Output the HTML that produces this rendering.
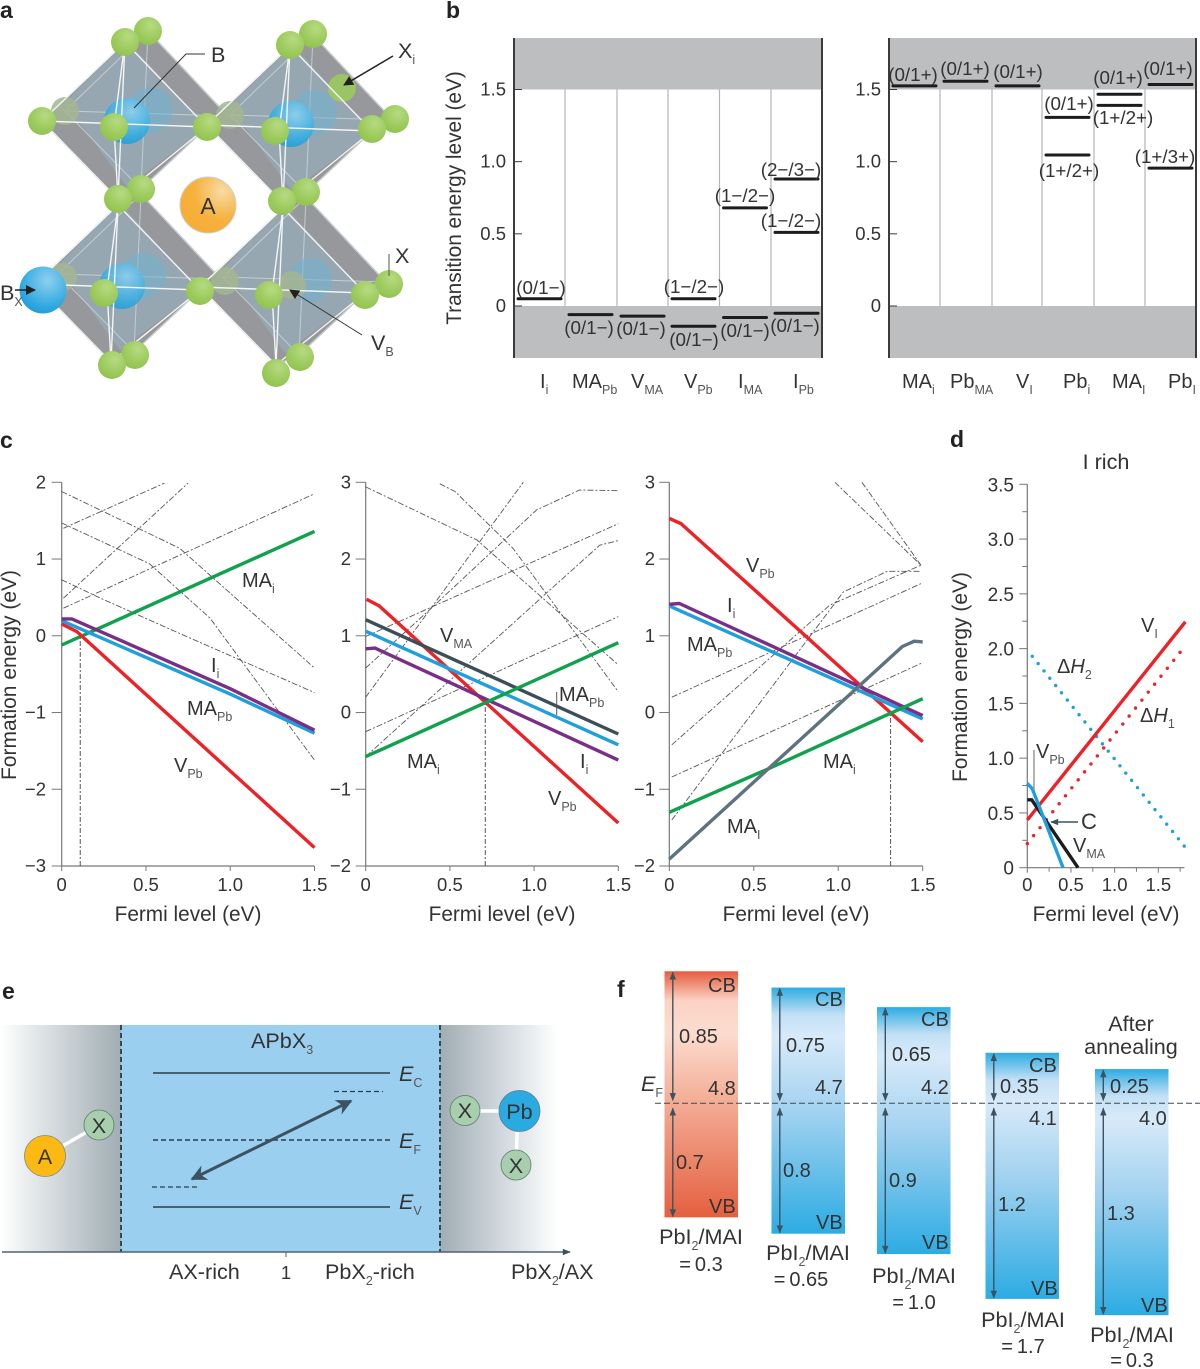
<!DOCTYPE html>
<html lang="en">
<head>
<meta charset="utf-8">
<title>Perovskite defect chemistry figure</title>
<style>
html,body{margin:0;padding:0;background:#fff;width:1200px;height:1369px;overflow:hidden}
svg{display:block}
text{font-family:"Liberation Sans",sans-serif;fill:#333;font-size:20px}
.t18{font-size:18.5px}
.t19{font-size:19px}
.s{font-size:12.5px;fill:#555}
.p{font-weight:bold;font-size:23px;fill:#222}
.m{text-anchor:middle}
.sl{font-size:18.8px}
.a{font-size:20.8px}
.w{font-size:21.6px}
</style>
</head>
<body>
<svg id="figure" width="1200" height="1369" viewBox="0 0 1200 1369" xmlns="http://www.w3.org/2000/svg">
<defs>
<radialGradient id="gr" cx="0.6" cy="0.3" r="0.8"><stop offset="0" stop-color="#b6da82"/><stop offset="0.6" stop-color="#9ccb5c"/><stop offset="1" stop-color="#8ec04c"/></radialGradient>
<radialGradient id="bl" cx="0.6" cy="0.3" r="0.8"><stop offset="0" stop-color="#8fd0ee"/><stop offset="0.7" stop-color="#2fa9e0"/><stop offset="1" stop-color="#1b98d6"/></radialGradient>
<radialGradient id="or" cx="0.75" cy="0.25" r="0.9"><stop offset="0" stop-color="#f7dca6"/><stop offset="0.55" stop-color="#f6b23e"/><stop offset="1" stop-color="#f5ac33"/></radialGradient>
<linearGradient id="gl" x1="0" x2="1" y1="0" y2="0"><stop offset="0" stop-color="#ffffff"/><stop offset="1" stop-color="#a0adb3"/></linearGradient>
<linearGradient id="gri" x1="0" x2="1" y1="0" y2="0"><stop offset="0" stop-color="#a0adb3"/><stop offset="0.5" stop-color="#cfd6dc"/><stop offset="1" stop-color="#ffffff"/></linearGradient>
<linearGradient id="barRed" x1="0" x2="0" y1="0" y2="1"><stop offset="0" stop-color="#e55c3e"/><stop offset="0.12" stop-color="#fbd3c4"/><stop offset="0.25" stop-color="#fcdccf"/><stop offset="0.5" stop-color="#f4b29b"/><stop offset="1" stop-color="#e4603f"/></linearGradient>
<linearGradient id="barBlue" x1="0" x2="0" y1="0" y2="1"><stop offset="0" stop-color="#2cace3"/><stop offset="0.11" stop-color="#c3e0f5"/><stop offset="0.2" stop-color="#d8eaf9"/><stop offset="0.5" stop-color="#a3d2f0"/><stop offset="1" stop-color="#2cace3"/></linearGradient>
<marker id="ah" viewBox="0 0 10 10" refX="9" refY="5" markerWidth="9" markerHeight="8" orient="auto-start-reverse" markerUnits="userSpaceOnUse"><path d="M0 1 L10 5 L0 9 Z" fill="#3d5260"/></marker>
<marker id="ahBig" viewBox="0 0 10 10" refX="9" refY="5" markerWidth="20" markerHeight="16" orient="auto-start-reverse" markerUnits="userSpaceOnUse"><path d="M0 0 L10 5 L0 10 L3 5 Z" fill="#3d5260"/></marker>
<marker id="ahK" viewBox="0 0 10 10" refX="9" refY="5" markerWidth="12" markerHeight="10" orient="auto" markerUnits="userSpaceOnUse"><path d="M0 0 L10 5 L0 10 Z" fill="#222"/></marker>
<g id="octa">
<polygon points="125,42 148,31 224,112 207,127 141,189 118,199 42,121" fill="#96989b" stroke="#c8cbce" stroke-width="1.5"/>
<polygon points="125,43 57,110 80,123 127,187 207,127 197,117 133,47" fill="#97a7b1"/>
<g stroke="#c3ccd2" stroke-width="1" fill="none">
<line x1="148" y1="31" x2="141" y2="189"/><line x1="65" y1="111" x2="148" y2="31"/><line x1="65" y1="111" x2="141" y2="189"/><line x1="65" y1="111" x2="228" y2="116"/><line x1="228" y1="116" x2="148" y2="31"/>
</g>
</g>
<g id="octaLines" stroke="#f3f5f6" stroke-width="1.4" fill="none">
<line x1="125" y1="42" x2="114" y2="127"/><line x1="125" y1="42" x2="207" y2="127"/><line x1="125" y1="42" x2="42" y2="121"/><line x1="42" y1="121" x2="207" y2="127"/><line x1="118" y1="199" x2="114" y2="127"/><line x1="118" y1="199" x2="125" y2="42"/><line x1="118" y1="199" x2="207" y2="127"/><line x1="42" y1="121" x2="118" y2="199" stroke-width="1"/>
</g>
</defs>

<!-- PANEL A -->
<g id="panel-a">
<text x="0" y="18" class="p">a</text>
<use href="#octa"/>
<use href="#octa" transform="translate(165,4)"/>
<use href="#octa" transform="translate(-7,163)"/>
<use href="#octa" transform="translate(158,166)"/>
<g>
<circle cx="150" cy="110" r="23" fill="#6fb3d2" opacity="0.55"/><circle cx="127" cy="121" r="23" fill="url(#bl)" opacity="0.9"/>
<circle cx="314" cy="113" r="23" fill="#6fb3d2" opacity="0.55"/><circle cx="291" cy="124" r="23" fill="url(#bl)" opacity="0.9"/>
<circle cx="143" cy="276" r="23" fill="#6fb3d2" opacity="0.55"/><circle cx="122" cy="286" r="23" fill="url(#bl)" opacity="0.85"/>
<circle cx="310" cy="280" r="22" fill="#6fb3d2" opacity="0.55"/>
</g>
<g fill="#a3b592" opacity="0.85">
<circle cx="65" cy="111" r="14"/><circle cx="230" cy="115" r="14"/><circle cx="63" cy="277" r="14"/><circle cx="225" cy="281" r="14"/>
<circle cx="292" cy="285" r="14"/><circle cx="342" cy="88" r="14" fill="#9ccb5c"/>
</g>
<use href="#octaLines"/>
<use href="#octaLines" transform="translate(165,4)"/>
<use href="#octaLines" transform="translate(-7,163)"/>
<use href="#octaLines" transform="translate(158,166)"/>
<g fill="url(#gr)">
<circle cx="148" cy="31" r="14"/><circle cx="125" cy="42" r="14"/><circle cx="42" cy="121" r="14"/><circle cx="114" cy="127" r="14"/><circle cx="207" cy="127" r="14"/>
<circle cx="141" cy="189" r="14"/><circle cx="118" cy="199" r="14"/>
<circle cx="313" cy="34" r="14"/><circle cx="290" cy="45" r="14"/><circle cx="275" cy="131" r="14"/><circle cx="395" cy="119" r="14"/><circle cx="372" cy="129" r="14"/>
<circle cx="306" cy="192" r="14"/><circle cx="282" cy="201" r="14"/>
<circle cx="104" cy="293" r="14"/><circle cx="200" cy="291" r="14"/>
<circle cx="135" cy="355" r="14"/><circle cx="112" cy="365" r="14"/>
<circle cx="269" cy="295" r="14"/><circle cx="389" cy="284" r="14"/><circle cx="365" cy="295" r="14"/>
<circle cx="300" cy="357" r="14"/><circle cx="276" cy="373" r="14"/>
</g>
<circle cx="43" cy="290" r="23.5" fill="url(#bl)"/>
<circle cx="208" cy="205" r="28" fill="url(#or)" stroke="#cfcfcf" stroke-width="1"/>
<text x="208" y="214" class="m" style="font-size:23px">A</text>
<polyline points="134,108 186,54 205,54" fill="none" stroke="#333" stroke-width="1"/>
<text x="211" y="62" class="w">B</text>
<text x="398" y="58" class="w">X<tspan class="s" dy="6">i</tspan></text>
<line x1="393" y1="56" x2="344" y2="85" stroke="#222" stroke-width="1.5" marker-end="url(#ahK)"/>
<text x="395" y="263" class="w">X</text>
<line x1="389" y1="254" x2="389" y2="276" stroke="#555" stroke-width="1"/>
<text x="0" y="300" class="w">B<tspan class="s" dy="6">X</tspan></text>
<line x1="15" y1="290" x2="35" y2="290" stroke="#222" stroke-width="1.5" marker-end="url(#ahK)"/>
<text x="371" y="350" class="w">V<tspan class="s" dy="6">B</tspan></text>
<line x1="362" y1="335" x2="290" y2="290" stroke="#333" stroke-width="1" marker-end="url(#ahK)"/>
</g>

<!-- PANEL B -->
<g id="panel-b">
<text x="446" y="18" class="p">b</text>
<text transform="translate(461,198) rotate(-90)" class="m a">Transition energy level (eV)</text>
<g id="b-marks"></g>
<g>
<text class="m sl" x="541" y="294">(0/1−)</text>
<text class="m sl" x="589" y="334">(0/1−)</text>
<text class="m sl" x="641" y="335">(0/1−)</text>
<text class="m sl" x="694" y="293">(1−/2−)</text>
<text class="m sl" x="694" y="346">(0/1−)</text>
<text class="m sl" x="745" y="202">(1−/2−)</text>
<text class="m sl" x="745" y="337">(0/1−)</text>
<text class="m sl" x="791" y="176">(2−/3−)</text>
<text class="m sl" x="791" y="227">(1−/2−)</text>
<text class="m sl" x="795" y="332">(0/1−)</text>
<text class="m sl" x="913" y="81">(0/1+)</text>
<text class="m sl" x="965" y="75">(0/1+)</text>
<text class="m sl" x="1018" y="78">(0/1+)</text>
<text class="m sl" x="1069" y="110">(0/1+)</text>
<text class="m sl" x="1069" y="177">(1+/2+)</text>
<text class="m sl" x="1118" y="84">(0/1+)</text>
<text class="m sl" x="1123" y="124">(1+/2+)</text>
<text class="m sl" x="1168" y="75">(0/1+)</text>
<text class="m sl" x="1165" y="163">(1+/3+)</text>
</g>
<g>
<text x="540" y="388">I<tspan class="s" dy="6">i</tspan></text>
<text x="572" y="388">MA<tspan class="s" dy="6">Pb</tspan></text>
<text x="631" y="388">V<tspan class="s" dy="6">MA</tspan></text>
<text x="684" y="388">V<tspan class="s" dy="6">Pb</tspan></text>
<text x="738" y="388">I<tspan class="s" dy="6">MA</tspan></text>
<text x="793" y="388">I<tspan class="s" dy="6">Pb</tspan></text>
<text x="902" y="388">MA<tspan class="s" dy="6">i</tspan></text>
<text x="950" y="388">Pb<tspan class="s" dy="6">MA</tspan></text>
<text x="1016" y="388">V<tspan class="s" dy="6">I</tspan></text>
<text x="1063" y="388">Pb<tspan class="s" dy="6">i</tspan></text>
<text x="1112" y="388">MA<tspan class="s" dy="6">I</tspan></text>
<text x="1168" y="388">Pb<tspan class="s" dy="6">I</tspan></text>
</g>
</g>

<!-- PANEL C & D -->
<g id="panel-c">
<text x="0" y="448" class="p">c</text>
<text transform="translate(16,675) rotate(-90)" class="m" style="font-size:21px">Formation energy (eV)</text>
<g id="c-marks"></g>
<text x="188" y="921" class="m a">Fermi level (eV)</text>
<text x="502" y="921" class="m a">Fermi level (eV)</text>
<text x="796" y="921" class="m a">Fermi level (eV)</text>
<text x="242" y="587">MA<tspan class="s" dy="6">i</tspan></text>
<text x="211" y="672">I<tspan class="s" dy="6">i</tspan></text>
<text x="187" y="715">MA<tspan class="s" dy="6">Pb</tspan></text>
<text x="174" y="772">V<tspan class="s" dy="6">Pb</tspan></text>
<text x="440" y="642">V<tspan class="s" dy="6">MA</tspan></text>
<text x="559" y="701">MA<tspan class="s" dy="6">Pb</tspan></text>
<line x1="556.7" y1="692" x2="556.7" y2="715" stroke="#555" stroke-width="1"/>
<text x="407" y="768">MA<tspan class="s" dy="6">i</tspan></text>
<text x="580" y="768">I<tspan class="s" dy="6">i</tspan></text>
<text x="548" y="805">V<tspan class="s" dy="6">Pb</tspan></text>
<text x="746" y="572">V<tspan class="s" dy="6">Pb</tspan></text>
<text x="727" y="612">I<tspan class="s" dy="6">i</tspan></text>
<text x="687" y="651">MA<tspan class="s" dy="6">Pb</tspan></text>
<text x="823" y="768">MA<tspan class="s" dy="6">i</tspan></text>
<text x="727" y="833">MA<tspan class="s" dy="6">I</tspan></text>
</g>
<g id="panel-d">
<text x="950" y="447" class="p">d</text>
<text x="1106" y="469" class="m w">I rich</text>
<text transform="translate(967,677) rotate(-90)" class="m" style="font-size:21px">Formation energy (eV)</text>
<text x="1106" y="921" class="m a">Fermi level (eV)</text>
<g id="d-marks"></g>
<text x="1141" y="632">V<tspan class="s" dy="6">I</tspan></text>
<text x="1057" y="673">Δ<tspan font-style="italic">H</tspan><tspan class="s" dy="6">2</tspan></text>
<text x="1140" y="722">Δ<tspan font-style="italic">H</tspan><tspan class="s" dy="6">1</tspan></text>
<text x="1036" y="758">V<tspan class="s" dy="6">Pb</tspan></text>
<line x1="1034" y1="750" x2="1034" y2="790" stroke="#999" stroke-width="1.5"/>
<line x1="1078" y1="822" x2="1051" y2="822" stroke="#3d5260" stroke-width="1.5" marker-end="url(#ah)"/>
<text x="1081" y="829" style="font-size:22px">C</text>
<text x="1073" y="852">V<tspan class="s" dy="6">MA</tspan></text>
</g>

<!-- PANEL E -->
<g id="panel-e">
<text x="2" y="999" class="p">e</text>
<rect x="0" y="1025" width="121" height="227" fill="url(#gl)"/>
<rect x="121" y="1025" width="319" height="227" fill="#9bcff0"/>
<rect x="440" y="1025" width="118" height="227" fill="url(#gri)"/>
<line x1="121" y1="1025" x2="121" y2="1252" stroke="#34495a" stroke-width="2" stroke-dasharray="5 3"/>
<line x1="440" y1="1025" x2="440" y2="1252" stroke="#34495a" stroke-width="2" stroke-dasharray="5 3"/>
<text x="251" y="1048" class="w">APbX<tspan class="s" dy="6">3</tspan></text>
<line x1="153" y1="1073" x2="390" y2="1073" stroke="#2d3e4a" stroke-width="1.5"/>
<line x1="334" y1="1091.5" x2="383" y2="1091.5" stroke="#2d3e4a" stroke-width="1.3" stroke-dasharray="5 3"/>
<line x1="153" y1="1140" x2="390" y2="1140" stroke="#2d3e4a" stroke-width="1.5" stroke-dasharray="5 3"/>
<line x1="152" y1="1187" x2="200" y2="1187" stroke="#2d3e4a" stroke-width="1.3" stroke-dasharray="5 3"/>
<line x1="153" y1="1207" x2="390" y2="1207" stroke="#2d3e4a" stroke-width="1.5"/>
<line x1="192" y1="1179" x2="351" y2="1101" stroke="#3d5260" stroke-width="3" marker-start="url(#ahBig)" marker-end="url(#ahBig)"/>
<text x="399" y="1081" class="w"><tspan font-style="italic">E</tspan><tspan class="s" dy="6">C</tspan></text>
<text x="399" y="1148" class="w"><tspan font-style="italic">E</tspan><tspan class="s" dy="6">F</tspan></text>
<text x="399" y="1209" class="w"><tspan font-style="italic">E</tspan><tspan class="s" dy="6">V</tspan></text>
<line x1="45" y1="1156" x2="99" y2="1125" stroke="#fff" stroke-width="3.5"/>
<circle cx="45" cy="1156" r="20.5" fill="#fdb913" stroke="#7a8a80" stroke-width="0.8"/>
<text x="45" y="1164" class="m w">A</text>
<circle cx="99" cy="1125" r="15" fill="#a7cfae" stroke="#5d7a6a" stroke-width="0.8"/>
<text x="99" y="1133" class="m w">X</text>
<line x1="465" y1="1111" x2="519" y2="1111" stroke="#fff" stroke-width="3.5"/>
<line x1="518" y1="1111" x2="516" y2="1165" stroke="#fff" stroke-width="3.5"/>
<circle cx="465" cy="1110.5" r="15" fill="#a7cfae" stroke="#5d7a6a" stroke-width="0.8"/>
<text x="465" y="1118" class="m w">X</text>
<circle cx="519.5" cy="1111" r="20.5" fill="#29abe2" stroke="#5d7a8a" stroke-width="0.8"/>
<text x="519.5" y="1119" class="m w">Pb</text>
<circle cx="516" cy="1165" r="15" fill="#a7cfae" stroke="#5d7a6a" stroke-width="0.8"/>
<text x="516" y="1173" class="m w">X</text>
<line x1="2" y1="1252" x2="570" y2="1252" stroke="#4d6472" stroke-width="1.6" marker-end="url(#ah)"/>
<line x1="286" y1="1252" x2="286" y2="1257" stroke="#4d6472" stroke-width="1"/>
<text x="169" y="1279" class="w">AX-rich</text>
<text x="286" y="1279" class="m t18">1</text>
<text x="325" y="1279" class="w">PbX<tspan class="s" dy="6">2</tspan><tspan dy="-6">-rich</tspan></text>
<text x="511" y="1279" class="w">PbX<tspan class="s" dy="6">2</tspan><tspan dy="-6">/AX</tspan></text>
</g>

<!-- PANEL F -->
<g id="panel-f">
<text x="617" y="997" class="p">f</text>
<g id="f-marks"></g>
<text x="641" y="1091" class="w"><tspan font-style="italic">E</tspan><tspan class="s" dy="6">F</tspan></text>
<g>
<text x="708" y="992">CB</text>
<text x="679" y="1043">0.85</text>
<text x="708" y="1095">4.8</text>
<text x="676" y="1169">0.7</text>
<text x="709" y="1213">VB</text>
<text x="701" y="1244" class="m w">PbI<tspan class="s" dy="6">2</tspan><tspan dy="-6">/MAI</tspan></text>
<text x="701" y="1271" class="m">=&#8201;0.3</text>
</g>
<g>
<text x="815" y="1006">CB</text>
<text x="786" y="1052">0.75</text>
<text x="815" y="1094">4.7</text>
<text x="783" y="1177">0.8</text>
<text x="816" y="1229">VB</text>
<text x="808" y="1260" class="m w">PbI<tspan class="s" dy="6">2</tspan><tspan dy="-6">/MAI</tspan></text>
<text x="801" y="1286" class="m">=&#8201;0.65</text>
</g>
<g>
<text x="921" y="1026">CB</text>
<text x="892" y="1061">0.65</text>
<text x="921" y="1094">4.2</text>
<text x="889" y="1187">0.9</text>
<text x="922" y="1249">VB</text>
<text x="914" y="1283" class="m w">PbI<tspan class="s" dy="6">2</tspan><tspan dy="-6">/MAI</tspan></text>
<text x="914" y="1309" class="m">=&#8201;1.0</text>
</g>
<g>
<text x="1029" y="1072">CB</text>
<text x="1000" y="1093">0.35</text>
<text x="1029" y="1125">4.1</text>
<text x="998" y="1211">1.2</text>
<text x="1031" y="1295">VB</text>
<text x="1023" y="1327" class="m w">PbI<tspan class="s" dy="6">2</tspan><tspan dy="-6">/MAI</tspan></text>
<text x="1023" y="1353" class="m">=&#8201;1.7</text>
</g>
<g>
<text x="1110" y="1093">0.25</text>
<text x="1139" y="1125">4.0</text>
<text x="1107" y="1220">1.3</text>
<text x="1141" y="1312">VB</text>
<text x="1132" y="1342" class="m w">PbI<tspan class="s" dy="6">2</tspan><tspan dy="-6">/MAI</tspan></text>
<text x="1132" y="1367" class="m">=&#8201;0.3</text>
<text x="1131" y="1031" class="m w">After</text>
<text x="1131" y="1054" class="m w">annealing</text>
</g>
</g>
</svg>

<script>
// ---------- PANEL B data (eV) ----------
const bTickValues = [0, 0.5, 1.0, 1.5];
const bTickLabels = ['0', '0.5', '1.0', '1.5'];
const bLeftColumns = [0, 1, 2, 3, 3, 4, 4, 5, 5, 5];
const bLeftEnergies = [0.05, -0.06, -0.07, 0.05, -0.14, 0.68, -0.08, 0.88, 0.51, -0.05];
const bRightColumns = [0, 1, 2, 3, 3, 4, 4, 5, 5];
const bRightEnergies = [1.525, 1.557, 1.525, 1.307, 1.046, 1.467, 1.39, 1.535, 0.955];

// ---------- PANEL C data: [Fermi level, formation energy] vertices ----------
const c1VPb = [[0, 0.154], [0.09, 0.054], [1.5, -2.76]];
const c1MAPb = [[0, 0.197], [1.0, -0.76], [1.5, -1.27]];
const c1Ii = [[0, 0.22], [0.06, 0.22], [1.0, -0.69], [1.5, -1.23]];
const c1MAi = [[0, -0.12], [1.5, 1.36]];
const c1Dashed1 = [[0.01, 0.36], [1.5, 1.85]];
const c1Dashed2 = [[0.01, 0.49], [0.75, 1.99]];
const c1Dashed3 = [[0.01, 1.4], [0.61, 1.99]];
const c1Dashed4 = [[0, 1.88], [0.7, 1.14], [1.5, -0.42]];
const c1Dashed5 = [[0, 1.47], [0.52, 0.94], [0.88, 0.23], [1.5, -1.62]];
const c1Dashed6 = [[0, 0.73], [0.23, 0.49], [0.7, 0.03], [1.5, -0.74]];
const c1Pinning = [0.11, 0.0];

const c2VPb = [[0.005, 1.475], [0.08, 1.39], [1.5, -1.44]];
const c2VMA = [[0, 1.21], [1.5, -0.28]];
const c2MAPb = [[0, 1.06], [1.5, -0.42]];
const c2Ii = [[0, 0.83], [0.055, 0.84], [1.5, -0.62]];
const c2MAi = [[0, -0.575], [1.5, 0.91]];
const c2Dashed1 = [[0, 2.94], [0.66, 2.25], [1.5, 0.62]];
const c2Dashed2 = [[0.44, 2.98], [0.53, 2.88], [0.875, 2.14], [1.5, 0.27]];
const c2Dashed3 = [[0, 0.2], [0.936, 3.0]];
const c2Dashed4 = [[0, 0.58], [0.38, 1.34], [1.015, 2.64], [1.27, 2.9], [1.5, 2.89]];
const c2Dashed5 = [[0, 0.99], [1.5, 2.46]];
const c2Dashed6 = [[0, -0.575], [1.07, 1.55], [1.39, 2.18], [1.5, 2.24]];
const c2Dashed7 = [[0, -0.25], [1.5, 1.25]];
const c2Pinning = [0.71, 0.13];

const c3VPb = [[0, 2.53], [0.07, 2.46], [1.5, -0.38]];
const c3Ii = [[0, 1.41], [0.06, 1.42], [1.5, -0.04]];
const c3MAPb = [[0, 1.39], [1.5, -0.085]];
const c3MAi = [[0, -1.3], [0.59, -0.73], [1.5, 0.18]];
const c3MAI = [[0, -1.91], [1.38, 0.86], [1.45, 0.93], [1.5, 0.92]];
const c3Dashed1 = [[0.015, 0.2], [1.49, 1.68]];
const c3Dashed2 = [[0.015, -0.42], [0.95, 1.4], [1.49, 1.92]];
const c3Dashed3 = [[0.015, -0.84], [1.49, 0.64]];
const c3Dashed4 = [[0.015, -1.4], [1.03, 1.57], [1.29, 1.84], [1.49, 1.84]];
const c3Dashed5 = [[0.98, 3.0], [1.49, 1.92]];
const c3Dashed6 = [[1.14, 3.0], [1.49, 1.92]];
const c3Pinning = [1.31, 0.0];

const c1YTicks = [2, 1, 0, -1, -2, -3];
const c23YTicks = [3, 2, 1, 0, -1, -2];
const cXTicks = [0, 0.5, 1.0, 1.5];
const cXTickLabels = ['0', '0.5', '1.0', '1.5'];

// ---------- PANEL D data ----------
const dVI = [[0, 0.435], [1.81, 2.245]];
const dDeltaH1 = [[0, 0.22], [1.75, 1.966]];
const dDeltaH2 = [[0.057, 1.93], [1.805, 0.19]];
const dVPb = [[0, 0.77], [0.057, 0.72], [0.41, 0]];
const dVMA = [[0, 0.62], [0.05, 0.62], [0.58, 0]];
const dYTicks = [0, 0.5, 1.0, 1.5, 2.0, 2.5, 3.0, 3.5];
const dYTickLabels = ['0', '0.5', '1.0', '1.5', '2.0', '2.5', '3.0', '3.5'];
const dXTicks = [0, 0.5, 1.0, 1.5];
const dXTickLabels = ['0', '0.5', '1.0', '1.5'];

// ---------- PANEL F data (eV relative to Fermi level) ----------
const fBarLeft = [664.5, 771.5, 877, 985.5, 1095];
const fBandTop = [0.81, 0.71, 0.59, 0.31, 0.21];
const fBandBottom = [-0.70, -0.80, -0.925, -1.2, -1.3];

const NS = 'http://www.w3.org/2000/svg';
function mk(tag, parent, attrs) {
  const e = document.createElementNS(NS, tag);
  for (const k in attrs) e.setAttribute(k, attrs[k]);
  parent.appendChild(e);
  return e;
}
function linearScale(d0, d1, r0, r1) {
  return function (v) { return r0 + (v - d0) * (r1 - r0) / (d1 - d0); };
}

// ----- Panel B -----
function drawLevelPanel(root, name, xLeft, xRight, seps, cols, energies) {
  const y = linearScale(0, 1.5, 306, 89.5);
  const g = mk('g', root, {});
  
  
  const top = mk('rect', g, { x: xLeft, y: 38, width: xRight - xLeft, height: y(1.5) - 38, fill: '#bdbec0' });
  
  
  const bot = mk('rect', g, { x: xLeft, y: y(0), width: xRight - xLeft, height: 358 - y(0), fill: '#bdbec0' });
  
  
  seps.forEach(function (sx) {
    const l = mk('line', g, { x1: sx, x2: sx, y1: y(1.5), y2: y(0), stroke: '#b4b5b7', 'stroke-width': 1.2 });
    
    
  });
  [xLeft, xRight].forEach(function (fx) {
    const l = mk('line', g, { x1: fx, x2: fx, y1: 38, y2: 358, stroke: '#3b3b3b', 'stroke-width': 2 });
    
    
  });
  bTickValues.forEach(function (v, i) {
    const t = mk('line', g, { x1: xLeft, x2: xLeft + 8, y1: y(v), y2: y(v), stroke: '#3b3b3b', 'stroke-width': 1 });
    
    
    const lb = mk('text', g, { x: xLeft - 8, y: y(v) + 6, 'text-anchor': 'end', class: 't18' });
    lb.textContent = bTickLabels[i];
    
    
  });
  const colX = [xLeft].concat(seps);
  cols.forEach(function (c, i) {
    const x0 = colX[c] + 4;
    const l = mk('line', g, { x1: x0, x2: x0 + 43, y1: y(energies[i]), y2: y(energies[i]), stroke: '#1c1c1c', 'stroke-width': 3, 'stroke-linecap': 'round' });
    
    
  });
}
const bRoot = document.getElementById('b-marks');
drawLevelPanel(bRoot, 'acceptor-levels-plot', 514, 822, [565, 617, 668, 719.5, 771], bLeftColumns, bLeftEnergies);
drawLevelPanel(bRoot, 'donor-levels-plot', 889, 1196, [940, 992, 1042, 1094, 1145], bRightColumns, bRightEnergies);

// ----- Panel C -----
const COLORS = { red: '#ec2227', blue: '#1fa0dc', purple: '#7a2f86', green: '#0fa14c', slate: '#3c4f59', grey: '#5e7280' };
function polyPts(pts, sx, sy) {
  return pts.map(function (p) { return sx(p[0]).toFixed(1) + ',' + sy(p[1]).toFixed(1); }).join(' ');
}
function drawFormation(root, name, x0, x1, yTicks, labelX, solid, dashed, pinning) {
  const top = yTicks[0];
  const bottom = yTicks[yTicks.length - 1];
  const sx = linearScale(0, 1.5, x0, x1);
  const sy = linearScale(top, bottom, 482.3, 866);
  const g = mk('g', root, {});
  
  
  const yAxis = mk('line', g, { x1: x0, x2: x0, y1: sy(top), y2: sy(bottom), stroke: '#777', 'stroke-width': 1.2 });
  
  
  const xAxis = mk('line', g, { x1: x0, x2: x1, y1: sy(bottom), y2: sy(bottom), stroke: '#777', 'stroke-width': 1.2 });
  
  
  yTicks.forEach(function (v) {
    const t = mk('line', g, { x1: x0 - 10, x2: x0, y1: sy(v), y2: sy(v), stroke: '#777', 'stroke-width': 1 });
    
    
    const lb = mk('text', g, { x: labelX, y: sy(v) + 6, 'text-anchor': 'end', class: 't18' });
    lb.textContent = v < 0 ? '\u2212' + Math.abs(v) : String(v);
    
    
  });
  cXTicks.forEach(function (v, i) {
    const t = mk('line', g, { x1: sx(v), x2: sx(v), y1: 866, y2: 871, stroke: '#777', 'stroke-width': 1 });
    
    
    const lb = mk('text', g, { x: sx(v), y: 891, 'text-anchor': 'middle', class: 't18' });
    lb.textContent = cXTickLabels[i];
    
    
  });
  dashed.forEach(function (pts) {
    const l = mk('polyline', g, { points: polyPts(pts, sx, sy), fill: 'none', stroke: '#555', 'stroke-width': 0.9, 'stroke-dasharray': '6 2 2 2' });
    
    
  });
  const pin = mk('line', g, { x1: sx(pinning[0]), x2: sx(pinning[0]), y1: sy(bottom), y2: sy(pinning[1]), stroke: '#555', 'stroke-width': 1, 'stroke-dasharray': '5 2 2 2' });
  
  
  solid.forEach(function (s) {
    const l = mk('polyline', g, { points: polyPts(s[0], sx, sy), fill: 'none', stroke: COLORS[s[1]], 'stroke-width': 3.4, 'stroke-linejoin': 'round' });
    
    
  });
}
const cRoot = document.getElementById('c-marks');
drawFormation(cRoot, 'plot-mapbi3-rich-1', 61.7, 314.5, c1YTicks, 46,
  [[c1MAi, 'green', 'line-ma-i'], [c1VPb, 'red', 'line-v-pb'], [c1MAPb, 'blue', 'line-ma-pb'], [c1Ii, 'purple', 'line-i-i']],
  [c1Dashed1, c1Dashed2, c1Dashed3, c1Dashed4, c1Dashed5, c1Dashed6], c1Pinning);
drawFormation(cRoot, 'plot-moderate-2', 365.7, 618.3, c23YTicks, 351,
  [[c2VPb, 'red', 'line-v-pb'], [c2VMA, 'slate', 'line-v-ma'], [c2MAPb, 'blue', 'line-ma-pb'], [c2Ii, 'purple', 'line-i-i'], [c2MAi, 'green', 'line-ma-i']],
  [c2Dashed1, c2Dashed2, c2Dashed3, c2Dashed4, c2Dashed5, c2Dashed6, c2Dashed7], c2Pinning);
drawFormation(cRoot, 'plot-pb-rich-3', 669.3, 922.7, c23YTicks, 655,
  [[c3VPb, 'red', 'line-v-pb'], [c3MAPb, 'blue', 'line-ma-pb'], [c3Ii, 'purple', 'line-i-i'], [c3MAi, 'green', 'line-ma-i'], [c3MAI, 'grey', 'line-ma-ii']],
  [c3Dashed1, c3Dashed2, c3Dashed3, c3Dashed4, c3Dashed5, c3Dashed6], c3Pinning);

// ----- Panel D -----
(function () {
  const root = document.getElementById('d-marks');
  const sx = linearScale(0, 1.5, 1027.3, 1158.3);
  const sy = linearScale(0, 3.5, 867.7, 484.3);
  const yAxis = mk('line', root, { x1: sx(0), x2: sx(0), y1: sy(3.5), y2: sy(0), stroke: '#777', 'stroke-width': 1.2 });
  
  
  const xAxis = mk('line', root, { x1: sx(0), x2: sx(1.8), y1: sy(0), y2: sy(0), stroke: '#777', 'stroke-width': 1.2 });
  
  
  dYTicks.forEach(function (v, i) {
    const t = mk('line', root, { x1: sx(0) - 8, x2: sx(0), y1: sy(v), y2: sy(v), stroke: '#777', 'stroke-width': 1 });
    
    
    const m = mk('line', root, { x1: sx(0) - 5, x2: sx(0), y1: sy(v + 0.25), y2: sy(v + 0.25), stroke: '#777', 'stroke-width': 1, visibility: v < 3.5 ? 'visible' : 'hidden' });
    
    
    const lb = mk('text', root, { x: 1014, y: sy(v) + 7, 'text-anchor': 'end', class: 't19' });
    lb.textContent = dYTickLabels[i];
    
    
  });
  dXTicks.forEach(function (v, i) {
    const t = mk('line', root, { x1: sx(v), x2: sx(v), y1: sy(0), y2: sy(0) + 5, stroke: '#777', 'stroke-width': 1 });
    
    
    const m = mk('line', root, { x1: sx(v + 0.25), x2: sx(v + 0.25), y1: sy(0), y2: sy(0) + 4, stroke: '#777', 'stroke-width': 1 });
    
    
    const lb = mk('text', root, { x: sx(v), y: 891, 'text-anchor': 'middle', class: 't18' });
    lb.textContent = dXTickLabels[i];
    
    
  });
  const h2 = mk('polyline', root, { points: polyPts(dDeltaH2, sx, sy), fill: 'none', stroke: '#1fa0dc', 'stroke-width': 3.4, 'stroke-linecap': 'round', 'stroke-dasharray': '0 9.35' });
  
  
  const h1 = mk('polyline', root, { points: polyPts(dDeltaH1, sx, sy), fill: 'none', stroke: '#ec2227', 'stroke-width': 3.4, 'stroke-linecap': 'round', 'stroke-dasharray': '0 10.2' });
  
  
  const vi = mk('polyline', root, { points: polyPts(dVI, sx, sy), fill: 'none', stroke: '#ec2227', 'stroke-width': 3.4 });
  
  
  const vma = mk('polyline', root, { points: polyPts(dVMA, sx, sy), fill: 'none', stroke: '#1c1c1c', 'stroke-width': 3.4 });
  
  
  const vpb = mk('polyline', root, { points: polyPts(dVPb, sx, sy), fill: 'none', stroke: '#1fa0dc', 'stroke-width': 3.4 });
  
  
})();

// ----- Panel F -----
(function () {
  const root = document.getElementById('f-marks');
  const y = linearScale(0, 1, 1103.3, 940.3);
  const w = 73.5;
  fBarLeft.forEach(function (x, i) {
    const b = mk('rect', root, { x: x, y: y(fBandTop[i]), width: w, height: y(fBandBottom[i]) - y(fBandTop[i]), fill: i === 0 ? 'url(#barRed)' : 'url(#barBlue)' });
    
    
  });
  const ef = mk('line', root, { x1: 655, x2: 1200, y1: y(0), y2: y(0), stroke: '#3d4a52', 'stroke-width': 1, 'stroke-dasharray': '6 3' });
  
  
  fBarLeft.forEach(function (x, i) {
    const ax = x + 8.3;
    const up = mk('line', root, { x1: ax, x2: ax, y1: y(fBandTop[i]) + 1, y2: y(0) - 3, stroke: '#3d5260', 'stroke-width': 1.4, 'marker-start': 'url(#ah)', 'marker-end': 'url(#ah)' });
    
    
    const dn = mk('line', root, { x1: ax, x2: ax, y1: y(0) + 5, y2: y(fBandBottom[i]) - 1, stroke: '#3d5260', 'stroke-width': 1.4, 'marker-start': 'url(#ah)', 'marker-end': 'url(#ah)' });
    
    
  });
})();
</script>
</body>
</html>
